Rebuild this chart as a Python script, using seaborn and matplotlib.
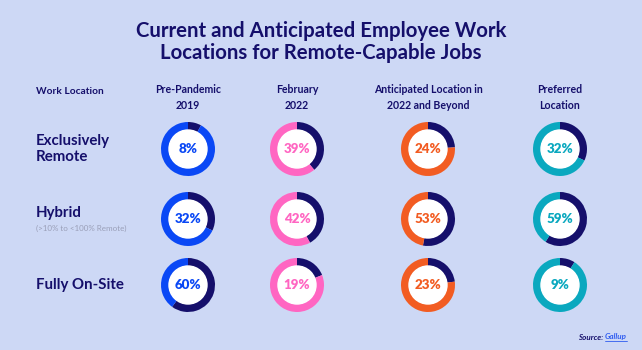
import matplotlib
matplotlib.use("Agg")
import matplotlib.pyplot as plt
import seaborn as sns
import pandas as pd
from matplotlib.patches import Circle
from matplotlib.lines import Line2D

sns.set_theme(style="white")
plt.rcParams['font.family'] = ['Lato', 'DejaVu Sans']

# ---- data ----
title = "Current and Anticipated Employee Work\nLocations for Remote-Capable Jobs"
columns = ["Pre-Pandemic\n2019", "February\n2022", "Anticipated Location in\n2022 and Beyond", "Preferred\nLocation"]
rows = ["Exclusively\nRemote", "Hybrid", "Fully On-Site"]
row_notes = ["", "(>10% to <100% Remote)", ""]
pre_pandemic_2019 = [8, 32, 60]
february_2022 = [39, 42, 19]
anticipated_2022_beyond = [24, 53, 23]
preferred_location = [32, 59, 9]
series = [pre_pandemic_2019, february_2022, anticipated_2022_beyond, preferred_location]

# ---- styles ----
BG = "#cdd8f5"
NAVY = "#150f6b"
col_colors = ["#0a48f5", "#ff66c2", "#f25c22", "#0aa8bf"]

W, H = 642, 350
fig = plt.figure(figsize=(W / 100, H / 100), dpi=100, facecolor=BG)

def fx(px):
    return px / W

def fy(py):
    return 1 - py / H

fig.text(fx(321), fy(42), title, ha="center", va="center", fontsize=14.7,
         fontweight="bold", color=NAVY, linespacing=1.1)

fig.text(fx(70), fy(91), "Work Location", ha="center", va="center",
         fontsize=7.3, fontweight="bold", color=NAVY)

col_x = [188, 297, 428, 560]
row_y = [149, 219, 285]
R = 27
ring = 8

for j, (cname, cx) in enumerate(zip(columns, col_x)):
    fig.text(fx(cx), fy(97.5), cname, ha="center", va="center", fontsize=7.6,
             fontweight="bold", color=NAVY, linespacing=1.45)

for i, (rname, note, ry) in enumerate(zip(rows, row_notes, row_y)):
    yoff = -6 if note else 0
    fig.text(fx(36), fy(ry + yoff), rname, ha="left", va="center", fontsize=10.8,
             fontweight="bold", color=NAVY, linespacing=1.25)
    if note:
        fig.text(fx(36), fy(ry + 9), note, ha="left", va="center", fontsize=5.8,
                 color="#9a9fb8")

for j, (vals, cx, col) in enumerate(zip(series, col_x, col_colors)):
    for i, (v, ry) in enumerate(zip(vals, row_y)):
        ax = fig.add_axes([fx(cx - R), fy(ry + R), 2 * R / W, 2 * R / H])
        df = pd.DataFrame({"part": ["value", "rest"], "pct": [v, 100 - v]})
        ax.pie(df["pct"], colors=[NAVY, col], startangle=90, counterclock=False,
               radius=1, wedgeprops=dict(width=ring / R, linewidth=0))
        ax.add_patch(Circle((0, 0), 1 - ring / R, color="white", zorder=3))
        ax.text(0, 0, f"{v}%", ha="center", va="center", fontsize=9.6,
                fontweight="heavy", color=col, zorder=4)
        ax.set_xlim(-1, 1)
        ax.set_ylim(-1, 1)
        ax.set_aspect("equal")
        ax.axis("off")

t1 = fig.text(fx(578), fy(337), "Source: ", ha="left", va="center", fontsize=5.8,
              fontweight="bold", style="italic", color=NAVY)
fig.canvas.draw()
bb = t1.get_window_extent()
t2 = fig.text(bb.x1 / W, fy(337), "Gallup", ha="left", va="center", fontsize=5.8,
              fontweight="bold", style="italic", color="#2f5cf0")
fig.canvas.draw()
bb2 = t2.get_window_extent()
fig.add_artist(Line2D([bb2.x0 / W, bb2.x1 / W], [bb2.y0 / H, bb2.y0 / H],
                      transform=fig.transFigure, color="#2f5cf0", lw=0.6))

fig.savefig("out.png", dpi=100, facecolor=BG)
